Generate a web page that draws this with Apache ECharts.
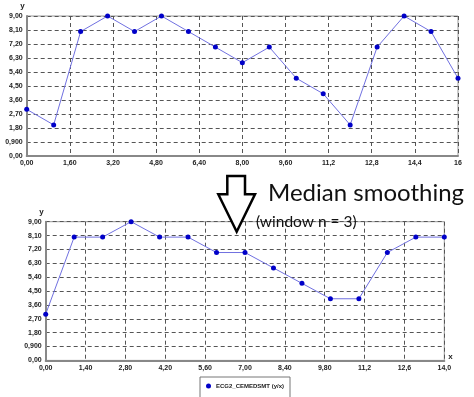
<!DOCTYPE html>
<html style="height: 100%">
<head>
    <meta charset="utf-8">
</head>
<body style="height: 100%; margin: 0; background: #fff">
    <div id="main" style="width: 474px; height: 397px"></div>
    <script src="https://cdn.jsdelivr.net/npm/echarts@6/dist/echarts.min.js"></script>
    <script type="text/javascript">

        // raw signal (top) and its median-smoothed version (bottom)
        var rawX = [0, 1, 2, 3, 4, 5, 6, 7, 8, 9, 10, 11, 12, 13, 14, 15, 16];
        var rawY = [3, 2, 8, 9, 8, 9, 8, 7, 6, 7, 5, 4, 2, 7, 9, 8, 5];
        var smoothX = [0, 1, 2, 3, 4, 5, 6, 7, 8, 9, 10, 11, 12, 13, 14];
        var smoothY = [3, 8, 8, 9, 8, 8, 7, 7, 6, 5, 4, 4, 7, 8, 8];

        var yLabels = ['0,00', '0,900', '1,80', '2,70', '3,60', '4,50', '5,40', '6,30', '7,20', '8,10', '9,00'];
        var topXLabels = ['0,00', '1,60', '3,20', '4,80', '6,40', '8,00', '9,60', '11,2', '12,8', '14,4', '16'];
        var bottomXLabels = ['0,00', '1,40', '2,80', '4,20', '5,60', '7,00', '8,40', '9,80', '11,2', '12,6', '14,0'];

        var seriesName = 'ECG2_CEMEDSMT (y/x)';

        var chart = echarts.init(document.getElementById('main'));

        var labelFont = { fontFamily: 'Liberation Sans', fontWeight: 'bold', fontSize: 7, color: '#222' };
        var dashed = { show: true, lineStyle: { type: [4, 3], color: '#555', width: 1 } };

        function zip(xs, ys) {
            return xs.map(function (x, i) { return [x, ys[i]]; });
        }

        function xAxis(idx, max, step, labels, name) {
            return {
                type: 'value', gridIndex: idx, min: 0, max: max, interval: step,
                name: name, nameGap: 4,
                nameTextStyle: { fontFamily: 'Liberation Sans', fontWeight: 'bold', fontSize: 8, color: '#222', verticalAlign: 'bottom' },
                axisLine: { lineStyle: { color: '#888', width: 2 } },
                axisTick: { show: false },
                axisLabel: Object.assign({
                    margin: 4,
                    formatter: function (v) { return labels[Math.round(v / step)]; }
                }, labelFont),
                splitLine: dashed
            };
        }

        function yAxis(idx) {
            return {
                type: 'value', gridIndex: idx, min: 0, max: 9, interval: 0.9,
                name: 'y', nameGap: 6,
                nameTextStyle: { fontFamily: 'Liberation Sans', fontWeight: 'bold', fontSize: 8, color: '#222', align: 'right', padding: [0, 2, 0, 0] },
                axisLine: { show: true, lineStyle: { color: '#888', width: 2 } },
                axisTick: { show: false },
                axisLabel: Object.assign({
                    margin: 4,
                    formatter: function (v) { return yLabels[Math.round(v / 0.9)]; }
                }, labelFont),
                splitLine: dashed
            };
        }

        function lineSeries(name, idx, data) {
            return {
                type: 'line', name: name, xAxisIndex: idx, yAxisIndex: idx,
                data: data, symbol: 'circle', symbolSize: 5,
                lineStyle: { color: '#7070e0', width: 1 },
                itemStyle: { color: '#0000c8' },
                animation: false
            };
        }

        chart.setOption({
            animation: false,
            grid: [
                { left: 26.7, right: 16, top: 16, height: 140, show: true, borderColor: '#999', borderWidth: 1 },
                { left: 45.7, right: 29.7, top: 221.7, height: 138.7, show: true, borderColor: '#999', borderWidth: 1 }
            ],
            xAxis: [
                xAxis(0, 16, 1.6, topXLabels, ''),
                xAxis(1, 14, 1.4, bottomXLabels, 'x')
            ],
            yAxis: [yAxis(0), yAxis(1)],
            legend: {
                data: [seriesName],
                left: 200, top: 377,
                icon: 'circle', itemWidth: 5, itemHeight: 5, itemGap: 4,
                padding: [6, 6, 14, 6],
                borderColor: '#777', borderWidth: 1,
                textStyle: { fontFamily: 'Liberation Sans', fontWeight: 'bold', fontSize: 6, color: '#222' }
            },
            series: [
                lineSeries('ECG2', 0, zip(rawX, rawY)),
                lineSeries(seriesName, 1, zip(smoothX, smoothY))
            ],
            graphic: [
                {
                    type: 'polygon', z: 100,
                    shape: {
                        points: [[227.3, 176], [245, 176], [245, 194.3], [255, 194.3], [236.7, 231.7], [218.3, 194.3], [227.3, 194.3]]
                    },
                    style: { fill: '#fff', stroke: '#000', lineWidth: 2.5, lineJoin: 'miter' }
                },
                {
                    type: 'text', z: 100, left: 268, top: 181,
                    style: { text: 'Median smoothing', font: '24px Lato', fill: '#111' }
                },
                {
                    type: 'text', z: 100, left: 256, top: 214,
                    style: { text: '(window n = 3)', font: '15.5px Lato', fill: '#111' }
                }
            ]
        });

    </script>
</body>
</html>
